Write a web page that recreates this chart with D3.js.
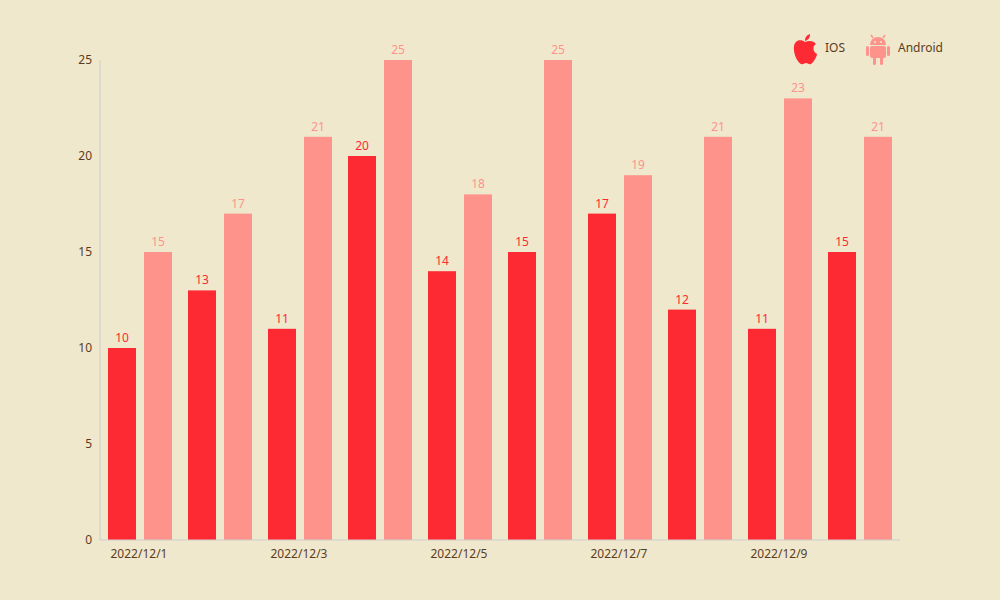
<!DOCTYPE html>
<html><head><meta charset="utf-8">
<script src="https://cdn.jsdelivr.net/npm/d3@7"></script>
<style>body{margin:0;background:#f0e8cd;font-family:"Microsoft YaHei","Noto Sans",sans-serif}</style>
</head><body><svg id="c" width="1000" height="600"></svg>
<script>
const dates = ['2022/12/1','2022/12/2','2022/12/3','2022/12/4','2022/12/5','2022/12/6','2022/12/7','2022/12/8','2022/12/9','2022/12/10'];
const ios = [10,13,11,20,14,15,17,12,11,15];
const android = [15,17,21,25,18,25,19,21,23,21];
const yTicks = [0,5,10,15,20,25];
const IOS_C = '#fe2a33', AND_C = '#fe938c', TXT = '#5b3d1c';

const svg = d3.select('#c');
svg.append('rect').attr('width',1000).attr('height',600).attr('fill','#f0e8cd');
const x = d3.scaleBand().domain(dates).range([100,900]);
const y = d3.scaleLinear().domain([0,25]).range([540,60]);

const series = [{name:'IOS',vals:ios,color:IOS_C,off:8},{name:'Android',vals:android,color:AND_C,off:44}];
series.forEach(s=>{
  const g = svg.append('g');
  g.selectAll('rect').data(s.vals).enter().append('rect')
    .attr('x',(d,i)=>x(dates[i])+s.off).attr('width',28)
    .attr('y',d=>y(d)).attr('height',d=>y(0)-y(d)).attr('fill',s.color);
  g.selectAll('text').data(s.vals).enter().append('text')
    .attr('x',(d,i)=>x(dates[i])+s.off+14).attr('y',d=>y(d)-6)
    .attr('text-anchor','middle').attr('font-size',12).attr('fill',s.color).text(d=>d);
});

// axes
svg.append('line').attr('x1',100).attr('x2',100).attr('y1',60).attr('y2',540).attr('stroke','#ccc');
svg.append('line').attr('x1',100).attr('x2',900).attr('y1',540).attr('y2',540).attr('stroke','#ccc');
svg.selectAll('.yt').data(yTicks).enter().append('text')
  .attr('x',92).attr('y',d=>y(d)+4).attr('text-anchor','end').attr('font-size',12).attr('fill',TXT).text(d=>d);
svg.selectAll('.xt').data(dates.filter((d,i)=>i%2===0)).enter().append('text')
  .attr('x',d=>x(d)+39).attr('y',558).attr('text-anchor','middle').attr('font-size',12).attr('fill',TXT).text(d=>d);

// legend
const apple = svg.append('g').attr('transform','translate(793,34)').attr('fill',IOS_C);
apple.append('path').attr('d','M12 8 C8 5 2 6 1 12 C0 19 4 28 8 30 C10 31 11 29 13 29 C15 29 16 31 18 30 C21 28 24 22 24 20 C20 18 19 12 23 10 C21 7 16 6 12 8 Z');
apple.append('path').attr('d','M12 7 C12 3 14 1 17 0 C17 4 15 6 12 7 Z');
const andr = svg.append('g').attr('transform','translate(866,34)').attr('fill',AND_C);
andr.append('path').attr('d','M4 11 A8 8 0 0 1 20 11 Z');
andr.append('line').attr('x1',7).attr('y1',4).attr('x2',5).attr('y2',1).attr('stroke',AND_C).attr('stroke-width',1.5);
andr.append('line').attr('x1',17).attr('y1',4).attr('x2',19).attr('y2',1).attr('stroke',AND_C).attr('stroke-width',1.5);
andr.append('circle').attr('cx',9).attr('cy',8).attr('r',1).attr('fill','#f0e8cd');
andr.append('circle').attr('cx',15).attr('cy',8).attr('r',1).attr('fill','#f0e8cd');
andr.append('rect').attr('x',4).attr('y',12).attr('width',16).attr('height',12).attr('rx',2);
andr.append('rect').attr('x',0).attr('y',12).attr('width',3).attr('height',10).attr('rx',1.5);
andr.append('rect').attr('x',21).attr('y',12).attr('width',3).attr('height',10).attr('rx',1.5);
andr.append('rect').attr('x',7).attr('y',22).attr('width',3).attr('height',9).attr('rx',1.5);
andr.append('rect').attr('x',14).attr('y',22).attr('width',3).attr('height',9).attr('rx',1.5);
svg.append('text').attr('x',825).attr('y',52).attr('font-size',12).attr('fill',TXT).text('IOS');
svg.append('text').attr('x',898).attr('y',52).attr('font-size',12).attr('fill',TXT).text('Android');
</script></body></html>
